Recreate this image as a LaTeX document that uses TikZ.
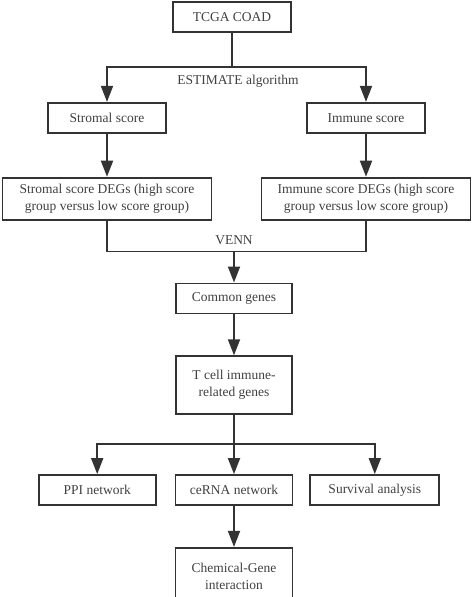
\documentclass[tikz,border=0pt]{standalone}
\usepackage{fontspec}
\setmainfont{Liberation Serif}
\usepackage{tikz}
\usetikzlibrary{positioning, arrows.meta, calc}

\begin{document}
\begin{tikzpicture}[
            >={Triangle[length=16pt, width=12pt]},
            box/.style={rectangle, draw=black!80, line width=1.8pt, minimum height=30pt,
                    align=center, text=black!75, inner sep=2pt,
                    font=\fontsize{13.5pt}{17pt}\selectfont},
            sbox/.style={box, minimum width=118pt},
            dbox/.style={box, minimum width=209pt, minimum height=42pt},
            tbox/.style={box, minimum width=117pt, minimum height=58pt},
            lbl/.style={text=black!75, font=\fontsize{13.5pt}{17pt}\selectfont, inner sep=1pt},
            line/.style={draw=black!80, line width=1.8pt},
            arrow/.style={line, ->},
            ]

            \useasboundingbox (0,0) rectangle (474pt,-597pt);

            \node[sbox] (tcga) at (232pt,-17pt) {TCGA COAD};

            \node[sbox, below=69pt of tcga, xshift=-125pt] (stromal) {Stromal score};
            \node[sbox, below=69pt of tcga, xshift=134pt] (immune) {Immune score};
            \draw[arrow] (tcga.south) -- ++(0,-34pt) coordinate (split) -| (stromal.north);
            \draw[arrow] (split) -| (immune.north);
            \node[lbl, below=7pt of split, xshift=6pt] (estimate) {ESTIMATE algorithm};

            \node[dbox, below=43pt of stromal] (sdeg) {Stromal score DEGs (high score\\group versus low score group)};
            \node[dbox, below=43pt of immune] (ideg) {Immune score DEGs (high score\\group versus low score group)};
            \draw[arrow] (stromal) -- (sdeg);
            \draw[arrow] (immune) -- (ideg);

            \node[sbox, minimum width=116pt, below=62pt of sdeg, xshift=127pt] (common) {Common genes};
            \draw[line] (sdeg.south) -- ++(0,-31pt) coordinate (join) -| (ideg.south);
            \draw[arrow] (join -| common.north) -- (common.north);
            \node[lbl, above=6pt of join -| common.north] (venn) {VENN};

            \node[tbox, minimum width=116pt, below=41pt of common] (tcell) {T cell immune-\\related genes};
            \draw[arrow] (common) -- (tcell);

            \node[sbox, minimum width=117pt, below=59pt of tcell] (cerna) {ceRNA network};
            \node[sbox, minimum width=117pt, left=18pt of cerna] (ppi) {PPI network};
            \node[sbox, minimum width=129pt, right=16pt of cerna] (surv) {Survival analysis};
            \draw[arrow] (tcell.south) -- ++(0,-29pt) coordinate (split2) -| (ppi.north);
            \draw[arrow] (split2) -| (surv.north);
            \draw[arrow] (tcell) -- (cerna);

            \node[tbox, below=41pt of cerna] (chem) {Chemical-Gene\\interaction};
            \draw[arrow] (cerna) -- (chem);

        \end{tikzpicture}
\end{document}
